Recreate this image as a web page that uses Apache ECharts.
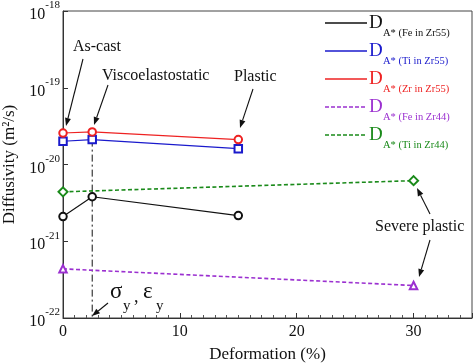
<!DOCTYPE html>
<html><head><meta charset="utf-8">
<script src="https://cdn.jsdelivr.net/npm/echarts@6/dist/echarts.min.js"></script>
<style>html,body{margin:0;padding:0;background:#fff}#c{width:474px;height:364px}</style>
</head><body><div id="c"></div>
<script>
// ---- data ----
const deformZr55 = [0, 2.5, 15];
const feInZr55 = [2.1e-21, 3.8e-21, 2.16e-21];
const tiInZr55 = [2.01e-20, 2.11e-20, 1.61e-20];
const zrInZr55 = [2.57e-20, 2.66e-20, 2.11e-20];
const deformZr44 = [0, 30];
const feInZr44 = [4.37e-22, 2.65e-22];
const tiInZr44 = [4.4e-21, 6.16e-21];
const yieldX = [2.5, 2.5];
const yieldY = [2.11e-20, 1e-22];
const seriesNames = ['Fe in Zr55', 'Ti in Zr55', 'Zr in Zr55', 'Fe in Zr44', 'Ti in Zr44'];
const xTicks = [0, 10, 20, 30];
const yMin = 1e-22, yMax = 1e-18;

// ECharts rounds tiny numbers to 20 decimals, so the log axis works on values scaled by 1e22
const SCALE = 1e22;
const SCALE_EXP = 22;

const FONT = "'Liberation Serif','Times New Roman',serif";
const colors = ['#111111', '#1a1acc', '#ee2222', '#9b30d0', '#1a8a1a'];
const zip = (xs, ys) => xs.map((x, i) => [x, ys[i] * SCALE]);

const chart = echarts.init(document.getElementById('c'), null, {renderer: 'canvas'});

function mkSeries(name, xs, ys, color, symbol, dashed) {
  return {
    type: 'line', name: name, data: zip(xs, ys), symbol: symbol, symbolSize: symbol === 'emptyDiamond' ? 9 : 7.5,
    lineStyle: {color: color, width: dashed ? 1.6 : 1.1, type: dashed ? [4, 2.5] : 'solid'},
    itemStyle: {color: color, borderColor: color, borderWidth: 1.1},
    z: 3, animation: false
  };
}

function arrow(x1, y1, x2, y2) {
  const ang = Math.atan2(y2 - y1, x2 - x1);
  const L = 8, W = 3;
  const bx = x2 - L * Math.cos(ang), by = y2 - L * Math.sin(ang);
  const px = -Math.sin(ang) * W, py = Math.cos(ang) * W;
  return [
    {type: 'line', shape: {x1: x1, y1: y1, x2: bx, y2: by}, style: {stroke: '#111', lineWidth: 1.1}, z: 10},
    {type: 'polygon', shape: {points: [[x2, y2], [bx + px, by + py], [bx - px, by - py]]}, style: {fill: '#111'}, z: 10}
  ];
}
function txt(x, y, s, size, color, align) {
  return {type: 'text', x: x, y: y, z: 10, style: {text: s, font: size + 'px ' + FONT, fill: color || '#111', textAlign: align || 'left', textVerticalAlign: 'middle'}};
}

const graphics = [];
graphics.push(txt(73, 47, 'As-cast', 16));
graphics.push(...arrow(83, 59, 66, 126));
graphics.push(txt(102, 76, 'Viscoelastostatic', 16));
graphics.push(...arrow(108, 85, 94, 125));
graphics.push(txt(234, 77, 'Plastic', 16));
graphics.push(...arrow(253, 89, 240, 128));
graphics.push(txt(375, 227, 'Severe plastic', 16));
graphics.push(...arrow(430, 214, 417, 188));
graphics.push(...arrow(430, 240, 419, 277));
graphics.push(txt(110, 292, 'σ', 23));
graphics.push(txt(123, 306, 'y', 15));
graphics.push(txt(134, 297, ',', 18));
graphics.push(txt(143, 292, 'ε', 23));
graphics.push(txt(156, 306, 'y', 15));
graphics.push(...arrow(108, 303, 92, 316));
seriesNames.forEach((n, i) => {
  const y = 23 + 28 * i;
  const dashed = i >= 3;
  graphics.push({type: 'line', shape: {x1: 325, y1: y, x2: 367, y2: y}, z: 10,
    style: {stroke: colors[i], lineWidth: 1.6, lineDash: dashed ? [4, 2] : null}});
  graphics.push(txt(369, y, 'D', 19, colors[i]));
  graphics.push(txt(383, y + 10, 'A* (' + n + ')', 10.5, colors[i]));
});

const option = {
  animation: false,
  backgroundColor: '#fff',
  grid: {left: 63, right: 2, top: 11, bottom: 46, containLabel: false, outerBoundsMode: 'none',
    show: true, borderColor: '#444', borderWidth: 1},
  xAxis: {
    type: 'value', min: 0, max: 35, interval: 10,
    axisLine: {show: true, lineStyle: {color: '#333', width: 1}},
    axisTick: {show: true, inside: true, length: 5, lineStyle: {color: '#333'}},
    minorTick: {show: true, splitNumber: 10, length: 3, lineStyle: {color: '#555'}},
    splitLine: {show: false},
    axisLabel: {fontFamily: FONT, fontSize: 16, color: '#111', margin: 6, showMaxLabel: false,
      formatter: v => xTicks.indexOf(v) >= 0 ? String(v) : ''},
    name: 'Deformation (%)', nameLocation: 'middle', nameGap: 28,
    nameTextStyle: {fontFamily: FONT, fontSize: 17, color: '#111'}
  },
  yAxis: {
    type: 'log', logBase: 10, min: yMin * SCALE, max: yMax * SCALE,
    axisLine: {show: true, lineStyle: {color: '#333', width: 1}},
    axisTick: {show: true, inside: true, length: 5, lineStyle: {color: '#333'}},
    splitLine: {show: false},
    axisLabel: {
      margin: 3, color: '#111',
      formatter: v => '{b|10}{s|' + (Math.round(Math.log10(v)) - SCALE_EXP) + '}',
      rich: {
        b: {fontFamily: FONT, fontSize: 16, color: '#111', lineHeight: 24, verticalAlign: 'bottom'},
        s: {fontFamily: FONT, fontSize: 11, color: '#111', lineHeight: 24, verticalAlign: 'top', padding: [1, 0, 0, 0]}
      }
    },
    name: 'Diffusivity (m²/s)', nameLocation: 'middle', nameGap: 43,
    nameTextStyle: {fontFamily: FONT, fontSize: 17, color: '#111'}
  },
  series: [
    mkSeries(seriesNames[0], deformZr55, feInZr55, colors[0], 'emptyCircle', false),
    mkSeries(seriesNames[1], deformZr55, tiInZr55, colors[1], 'emptyRect', false),
    mkSeries(seriesNames[2], deformZr55, zrInZr55, colors[2], 'emptyCircle', false),
    mkSeries(seriesNames[3], deformZr44, feInZr44, colors[3], 'emptyTriangle', true),
    mkSeries(seriesNames[4], deformZr44, tiInZr44, colors[4], 'emptyDiamond', true),
    {type: 'line', name: 'yield', data: zip(yieldX, yieldY), symbol: 'none', z: 2,
      lineStyle: {color: '#111', width: 1, type: [7, 3, 2, 3]}, animation: false}
  ],
  graphic: graphics
};
chart.setOption(option);
</script></body></html>
